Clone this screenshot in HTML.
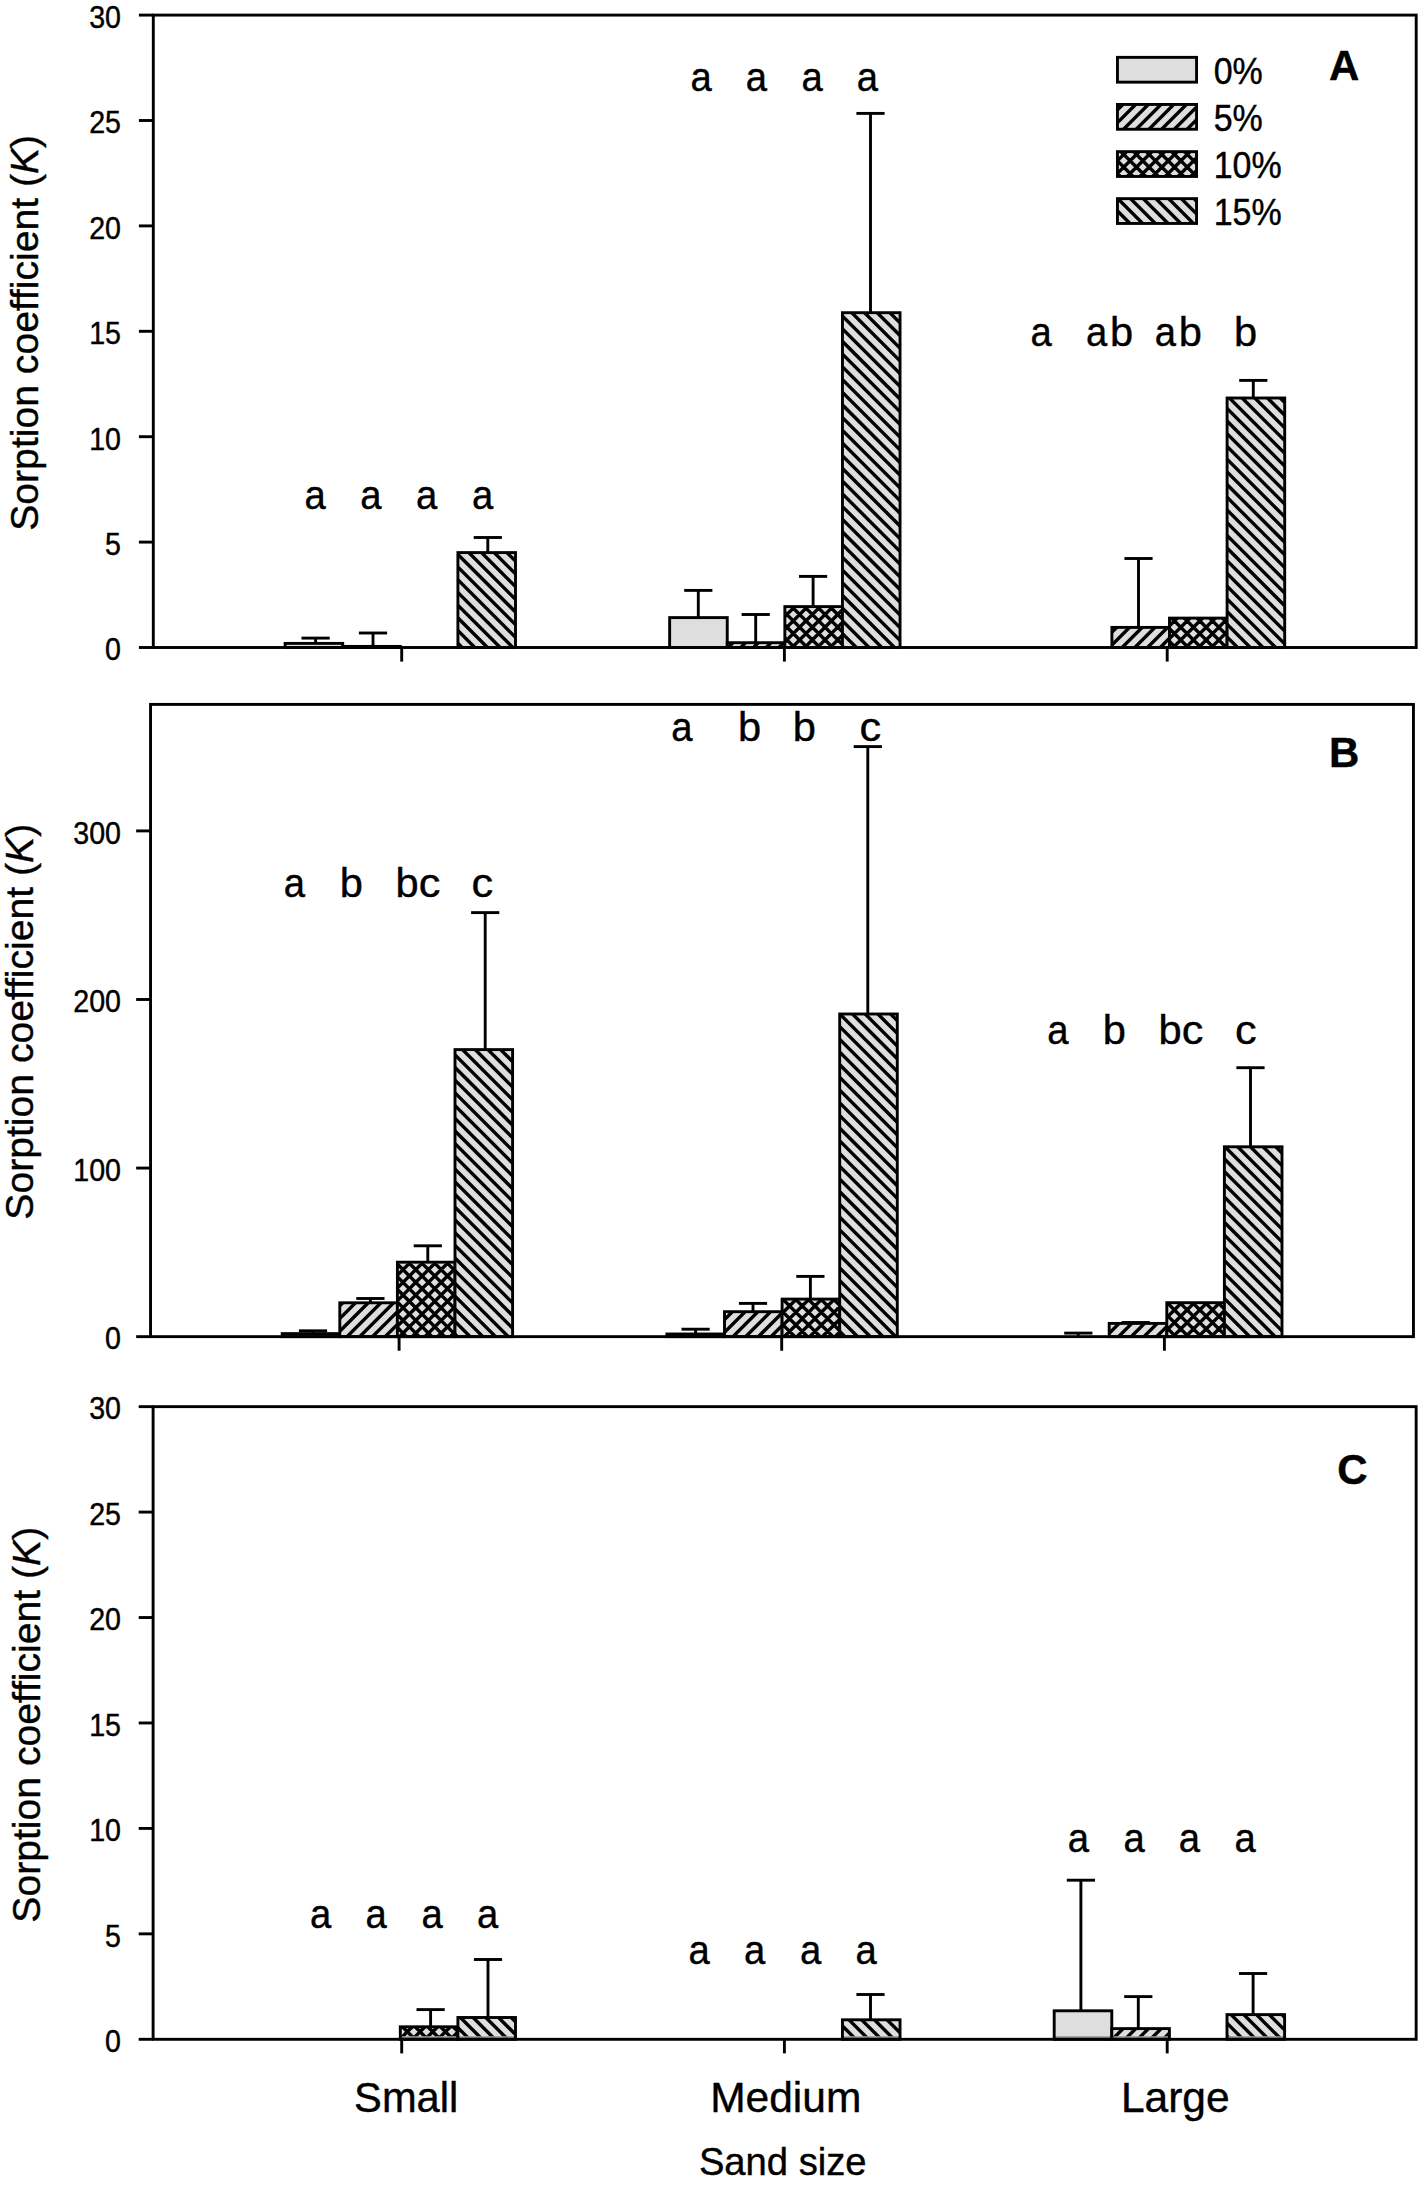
<!DOCTYPE html>
<html lang="en"><head><meta charset="utf-8"><title>Sorption coefficient (K) by sand size</title>
<style>
html,body{margin:0;padding:0;background:#fff}
body{width:1419px;height:2187px;overflow:hidden}
svg{display:block}
svg text{font-family:"Liberation Sans", Arial, Helvetica, sans-serif;font-variant-ligatures:none;font-kerning:none;fill:#000;stroke:#000;stroke-width:0.4px;white-space:pre}
</style></head><body>
<svg width="1419" height="2187" viewBox="0 0 1419 2187" stroke="#000" stroke-linecap="butt">
<rect x="0" y="0" width="1419" height="2187" fill="#fff" stroke="none"/>
<defs>
<clipPath id="c1"><rect x="342.7" y="646.4" width="57.6" height="1.1"/></clipPath>
<clipPath id="c2"><rect x="457.9" y="552.6" width="57.6" height="94.9"/></clipPath>
<clipPath id="c3"><rect x="727.25" y="642.7" width="57.6" height="4.8"/></clipPath>
<clipPath id="c4"><rect x="784.85" y="606.6" width="57.6" height="40.9"/></clipPath>
<clipPath id="c5"><rect x="842.45" y="312.7" width="57.6" height="334.8"/></clipPath>
<clipPath id="c6"><rect x="1111.9" y="627.4" width="57.6" height="20.1"/></clipPath>
<clipPath id="c7"><rect x="1169.5" y="618.1" width="57.6" height="29.4"/></clipPath>
<clipPath id="c8"><rect x="1227.1" y="398" width="57.6" height="249.5"/></clipPath>
<clipPath id="c9"><rect x="1117.45" y="104.45" width="79.1" height="24.8"/></clipPath>
<clipPath id="c10"><rect x="1117.45" y="151.65" width="79.1" height="24.8"/></clipPath>
<clipPath id="c11"><rect x="1117.45" y="198.65" width="79.1" height="24.8"/></clipPath>
<clipPath id="c12"><rect x="339.8" y="1302.8" width="57.6" height="33.85"/></clipPath>
<clipPath id="c13"><rect x="397.4" y="1262.2" width="57.6" height="74.45"/></clipPath>
<clipPath id="c14"><rect x="455" y="1049.6" width="57.6" height="287.05"/></clipPath>
<clipPath id="c15"><rect x="724.5" y="1311.7" width="57.6" height="24.95"/></clipPath>
<clipPath id="c16"><rect x="782.1" y="1299.1" width="57.6" height="37.55"/></clipPath>
<clipPath id="c17"><rect x="839.7" y="1014" width="57.6" height="322.65"/></clipPath>
<clipPath id="c18"><rect x="1109.2" y="1323.4" width="57.6" height="13.25"/></clipPath>
<clipPath id="c19"><rect x="1166.8" y="1302.7" width="57.6" height="33.95"/></clipPath>
<clipPath id="c20"><rect x="1224.4" y="1146.8" width="57.6" height="189.85"/></clipPath>
<clipPath id="c21"><rect x="400.3" y="2026.8" width="57.6" height="12.5"/></clipPath>
<clipPath id="c22"><rect x="457.9" y="2017.5" width="57.6" height="21.8"/></clipPath>
<clipPath id="c23"><rect x="842.45" y="2019.8" width="57.6" height="19.5"/></clipPath>
<clipPath id="c24"><rect x="1111.8" y="2028.6" width="57.6" height="10.7"/></clipPath>
<clipPath id="c25"><rect x="1227" y="2014.6" width="57.6" height="24.7"/></clipPath>
</defs>
<g>
<line x1="315.6" y1="638.1" x2="315.6" y2="643.4" stroke-width="2.9"/>
<line x1="301.5" y1="638.1" x2="329.7" y2="638.1" stroke-width="2.9"/>
<line x1="373" y1="633" x2="373" y2="646.4" stroke-width="2.9"/>
<line x1="358.9" y1="633" x2="387.1" y2="633" stroke-width="2.9"/>
<line x1="487.8" y1="537.5" x2="487.8" y2="552.6" stroke-width="2.9"/>
<line x1="473.7" y1="537.5" x2="501.9" y2="537.5" stroke-width="2.9"/>
<rect x="285.1" y="643.4" width="57.6" height="4.1" fill="#dedede" stroke="none"/>
<rect x="285.1" y="643.4" width="57.6" height="4.1" fill="none" stroke-width="2.9"/>
<rect x="342.7" y="646.4" width="57.6" height="1.1" fill="#dedede" stroke="none"/>
<path clip-path="url(#c1)" d="M337.25 644.25L340.55 640.95M341.25 652.95L353.25 640.95M353.95 652.95L365.95 640.95M366.65 652.95L378.65 640.95M379.35 652.95L391.35 640.95M392.05 652.95L404.05 640.95M404.75 652.95L405.75 651.95" fill="none" stroke-width="3.4"/>
<rect x="342.7" y="646.4" width="57.6" height="1.1" fill="none" stroke-width="2.9"/>
<rect x="457.9" y="552.6" width="57.6" height="94.9" fill="#dedede" stroke="none"/>
<path clip-path="url(#c2)" d="M514.15 547.15L520.95 553.95M501.45 547.15L520.95 566.65M488.75 547.15L520.95 579.35M476.05 547.15L520.95 592.05M463.35 547.15L520.95 604.75M452.45 548.95L520.95 617.45M452.45 561.65L520.95 630.15M452.45 574.35L520.95 642.85M452.45 587.05L518.35 652.95M452.45 599.75L505.65 652.95M452.45 612.45L492.95 652.95M452.45 625.15L480.25 652.95M452.45 637.85L467.55 652.95M452.45 650.55L454.85 652.95" fill="none" stroke-width="3.4"/>
<rect x="457.9" y="552.6" width="57.6" height="94.9" fill="none" stroke-width="2.9"/>
<line x1="698.3" y1="590.4" x2="698.3" y2="617.6" stroke-width="2.9"/>
<line x1="684.2" y1="590.4" x2="712.4" y2="590.4" stroke-width="2.9"/>
<line x1="755.7" y1="614.5" x2="755.7" y2="642.7" stroke-width="2.9"/>
<line x1="741.6" y1="614.5" x2="769.8" y2="614.5" stroke-width="2.9"/>
<line x1="813.1" y1="576.4" x2="813.1" y2="606.6" stroke-width="2.9"/>
<line x1="799" y1="576.4" x2="827.2" y2="576.4" stroke-width="2.9"/>
<line x1="870.5" y1="113.4" x2="870.5" y2="312.7" stroke-width="2.9"/>
<line x1="856.4" y1="113.4" x2="884.6" y2="113.4" stroke-width="2.9"/>
<rect x="669.65" y="617.6" width="57.6" height="29.9" fill="#dedede" stroke="none"/>
<rect x="669.65" y="617.6" width="57.6" height="29.9" fill="none" stroke-width="2.9"/>
<rect x="727.25" y="642.7" width="57.6" height="4.8" fill="#dedede" stroke="none"/>
<path clip-path="url(#c3)" d="M721.8 641.1L725.65 637.25M722.65 652.95L738.35 637.25M735.35 652.95L751.05 637.25M748.05 652.95L763.75 637.25M760.75 652.95L776.45 637.25M773.45 652.95L789.15 637.25M786.15 652.95L790.3 648.8" fill="none" stroke-width="3.4"/>
<rect x="727.25" y="642.7" width="57.6" height="4.8" fill="none" stroke-width="2.9"/>
<rect x="784.85" y="606.6" width="57.6" height="40.9" fill="#dedede" stroke="none"/>
<path clip-path="url(#c4)" d="M837.1 601.15L847.9 611.95M824.4 601.15L847.9 624.65M811.7 601.15L847.9 637.35M799 601.15L847.9 650.05M786.3 601.15L838.1 652.95M779.4 606.95L825.4 652.95M779.4 619.65L812.7 652.95M779.4 632.35L800 652.95M779.4 645.05L787.3 652.95M779.4 609.35L787.6 601.15M779.4 622.05L800.3 601.15M779.4 634.75L813 601.15M779.4 647.45L825.7 601.15M786.6 652.95L838.4 601.15M799.3 652.95L847.9 604.35M812 652.95L847.9 617.05M824.7 652.95L847.9 629.75M837.4 652.95L847.9 642.45" fill="none" stroke-width="3.4"/>
<rect x="784.85" y="606.6" width="57.6" height="40.9" fill="none" stroke-width="2.9"/>
<rect x="842.45" y="312.7" width="57.6" height="334.8" fill="#dedede" stroke="none"/>
<path clip-path="url(#c5)" d="M897.15 307.25L905.5 315.6M884.45 307.25L905.5 328.3M871.75 307.25L905.5 341M859.05 307.25L905.5 353.7M846.35 307.25L905.5 366.4M837 310.6L905.5 379.1M837 323.3L905.5 391.8M837 336L905.5 404.5M837 348.7L905.5 417.2M837 361.4L905.5 429.9M837 374.1L905.5 442.6M837 386.8L905.5 455.3M837 399.5L905.5 468M837 412.2L905.5 480.7M837 424.9L905.5 493.4M837 437.6L905.5 506.1M837 450.3L905.5 518.8M837 463L905.5 531.5M837 475.7L905.5 544.2M837 488.4L905.5 556.9M837 501.1L905.5 569.6M837 513.8L905.5 582.3M837 526.5L905.5 595M837 539.2L905.5 607.7M837 551.9L905.5 620.4M837 564.6L905.5 633.1M837 577.3L905.5 645.8M837 590L899.95 652.95M837 602.7L887.25 652.95M837 615.4L874.55 652.95M837 628.1L861.85 652.95M837 640.8L849.15 652.95" fill="none" stroke-width="3.4"/>
<rect x="842.45" y="312.7" width="57.6" height="334.8" fill="none" stroke-width="2.9"/>
<line x1="1138.5" y1="558.5" x2="1138.5" y2="627.4" stroke-width="2.9"/>
<line x1="1124.4" y1="558.5" x2="1152.6" y2="558.5" stroke-width="2.9"/>
<line x1="1253.3" y1="380.4" x2="1253.3" y2="398" stroke-width="2.9"/>
<line x1="1239.2" y1="380.4" x2="1267.4" y2="380.4" stroke-width="2.9"/>
<rect x="1111.9" y="627.4" width="57.6" height="20.1" fill="#dedede" stroke="none"/>
<path clip-path="url(#c6)" d="M1106.45 625.05L1109.55 621.95M1106.45 637.75L1122.25 621.95M1106.45 650.45L1134.95 621.95M1116.65 652.95L1147.65 621.95M1129.35 652.95L1160.35 621.95M1142.05 652.95L1173.05 621.95M1154.75 652.95L1174.95 632.75M1167.45 652.95L1174.95 645.45" fill="none" stroke-width="3.4"/>
<rect x="1111.9" y="627.4" width="57.6" height="20.1" fill="none" stroke-width="2.9"/>
<rect x="1169.5" y="618.1" width="57.6" height="29.4" fill="#dedede" stroke="none"/>
<path clip-path="url(#c7)" d="M1229.62 612.65L1232.55 615.58M1216.92 612.65L1232.55 628.28M1204.22 612.65L1232.55 640.98M1191.52 612.65L1231.82 652.95M1178.82 612.65L1219.12 652.95M1166.12 612.65L1206.42 652.95M1164.05 623.28L1193.72 652.95M1164.05 635.98L1181.02 652.95M1164.05 648.68L1168.32 652.95M1164.05 618.58L1169.98 612.65M1164.05 631.28L1182.68 612.65M1164.05 643.98L1195.38 612.65M1167.78 652.95L1208.08 612.65M1180.48 652.95L1220.78 612.65M1193.18 652.95L1232.55 613.58M1205.88 652.95L1232.55 626.28M1218.58 652.95L1232.55 638.98M1231.28 652.95L1232.55 651.68" fill="none" stroke-width="3.4"/>
<rect x="1169.5" y="618.1" width="57.6" height="29.4" fill="none" stroke-width="2.9"/>
<rect x="1227.1" y="398" width="57.6" height="249.5" fill="#dedede" stroke="none"/>
<path clip-path="url(#c8)" d="M1287.45 392.55L1290.15 395.25M1274.75 392.55L1290.15 407.95M1262.05 392.55L1290.15 420.65M1249.35 392.55L1290.15 433.35M1236.65 392.55L1290.15 446.05M1223.95 392.55L1290.15 458.75M1221.65 402.95L1290.15 471.45M1221.65 415.65L1290.15 484.15M1221.65 428.35L1290.15 496.85M1221.65 441.05L1290.15 509.55M1221.65 453.75L1290.15 522.25M1221.65 466.45L1290.15 534.95M1221.65 479.15L1290.15 547.65M1221.65 491.85L1290.15 560.35M1221.65 504.55L1290.15 573.05M1221.65 517.25L1290.15 585.75M1221.65 529.95L1290.15 598.45M1221.65 542.65L1290.15 611.15M1221.65 555.35L1290.15 623.85M1221.65 568.05L1290.15 636.55M1221.65 580.75L1290.15 649.25M1221.65 593.45L1281.15 652.95M1221.65 606.15L1268.45 652.95M1221.65 618.85L1255.75 652.95M1221.65 631.55L1243.05 652.95M1221.65 644.25L1230.35 652.95" fill="none" stroke-width="3.4"/>
<rect x="1227.1" y="398" width="57.6" height="249.5" fill="none" stroke-width="2.9"/>
<rect x="153.3" y="15.1" width="1262.9" height="632.4" fill="none" stroke-width="2.9"/>
<line x1="138.9" y1="647.5" x2="153.3" y2="647.5" stroke-width="2.9"/>
<text transform="translate(121.0 660.3) scale(1 1.065)" text-anchor="end" font-size="28.6">0</text>
<line x1="138.9" y1="542.1" x2="153.3" y2="542.1" stroke-width="2.9"/>
<text transform="translate(121.0 554.9) scale(1 1.065)" text-anchor="end" font-size="28.6">5</text>
<line x1="138.9" y1="436.7" x2="153.3" y2="436.7" stroke-width="2.9"/>
<text transform="translate(121.0 449.5) scale(1 1.065)" text-anchor="end" font-size="28.6">10</text>
<line x1="138.9" y1="331.3" x2="153.3" y2="331.3" stroke-width="2.9"/>
<text transform="translate(121.0 344.1) scale(1 1.065)" text-anchor="end" font-size="28.6">15</text>
<line x1="138.9" y1="225.9" x2="153.3" y2="225.9" stroke-width="2.9"/>
<text transform="translate(121.0 238.7) scale(1 1.065)" text-anchor="end" font-size="28.6">20</text>
<line x1="138.9" y1="120.5" x2="153.3" y2="120.5" stroke-width="2.9"/>
<text transform="translate(121.0 133.3) scale(1 1.065)" text-anchor="end" font-size="28.6">25</text>
<line x1="138.9" y1="15.1" x2="153.3" y2="15.1" stroke-width="2.9"/>
<text transform="translate(121.0 27.9) scale(1 1.065)" text-anchor="end" font-size="28.6">30</text>
<line x1="401.7" y1="647.5" x2="401.7" y2="661.6" stroke-width="2.9"/>
<line x1="784.4" y1="647.5" x2="784.4" y2="661.6" stroke-width="2.9"/>
<line x1="1167.2" y1="647.5" x2="1167.2" y2="661.6" stroke-width="2.9"/>
<text transform="translate(37.6 530.8) rotate(-90)" font-size="39.15" stroke-width="0.15">Sorption coefficient (<tspan font-style="italic">K</tspan>)</text>
<text x="1329" y="80.4" font-size="42" font-weight="bold">A</text>
<text y="509.3" font-size="40"><tspan x="304.49" textLength="21.245" lengthAdjust="spacingAndGlyphs">a</tspan> <tspan x="360.29" textLength="21.245" lengthAdjust="spacingAndGlyphs">a</tspan> <tspan x="416.09" textLength="21.245" lengthAdjust="spacingAndGlyphs">a</tspan> <tspan x="471.89" textLength="21.245" lengthAdjust="spacingAndGlyphs">a</tspan></text>
<text y="90.6" font-size="40"><tspan x="690.39" textLength="21.245" lengthAdjust="spacingAndGlyphs">a</tspan> <tspan x="745.69" textLength="21.245" lengthAdjust="spacingAndGlyphs">a</tspan> <tspan x="801.49" textLength="21.245" lengthAdjust="spacingAndGlyphs">a</tspan> <tspan x="856.79" textLength="21.245" lengthAdjust="spacingAndGlyphs">a</tspan></text>
<text y="345.5" font-size="40"><tspan x="1030.39" textLength="21.245" lengthAdjust="spacingAndGlyphs">a</tspan> <tspan x="1086.09" textLength="21.245" lengthAdjust="spacingAndGlyphs">a</tspan><tspan x="1110.04" textLength="23.136" lengthAdjust="spacingAndGlyphs">b</tspan> <tspan x="1154.79" textLength="21.245" lengthAdjust="spacingAndGlyphs">a</tspan><tspan x="1178.74" textLength="23.136" lengthAdjust="spacingAndGlyphs">b</tspan> <tspan x="1234.04" textLength="23.136" lengthAdjust="spacingAndGlyphs">b</tspan></text>
<rect x="1117.45" y="57.35" width="79.1" height="24.8" fill="#dedede" stroke="none"/>
<rect x="1117.45" y="57.35" width="79.1" height="24.8" fill="none" stroke-width="2.9"/>
<text transform="translate(1213.7 83.5) scale(1 1.075)" font-size="34">0%</text>
<rect x="1117.45" y="104.45" width="79.1" height="24.8" fill="#dedede" stroke="none"/>
<path clip-path="url(#c9)" d="M1112 102.7L1115.7 99M1112 115.4L1128.4 99M1112 128.1L1141.1 99M1118.1 134.7L1153.8 99M1130.8 134.7L1166.5 99M1143.5 134.7L1179.2 99M1156.2 134.7L1191.9 99M1168.9 134.7L1202 101.6M1181.6 134.7L1202 114.3M1194.3 134.7L1202 127" fill="none" stroke-width="3.4"/>
<rect x="1117.45" y="104.45" width="79.1" height="24.8" fill="none" stroke-width="2.9"/>
<text transform="translate(1213.7 130.6) scale(1 1.075)" font-size="34">5%</text>
<rect x="1117.45" y="151.65" width="79.1" height="24.8" fill="#dedede" stroke="none"/>
<path clip-path="url(#c10)" d="M1191.7 146.2L1202 156.5M1179 146.2L1202 169.2M1166.3 146.2L1202 181.9M1153.6 146.2L1189.3 181.9M1140.9 146.2L1176.6 181.9M1128.2 146.2L1163.9 181.9M1115.5 146.2L1151.2 181.9M1112 155.4L1138.5 181.9M1112 168.1L1125.8 181.9M1112 180.8L1113.1 181.9M1112 153.5L1119.3 146.2M1112 166.2L1132 146.2M1112 178.9L1144.7 146.2M1121.7 181.9L1157.4 146.2M1134.4 181.9L1170.1 146.2M1147.1 181.9L1182.8 146.2M1159.8 181.9L1195.5 146.2M1172.5 181.9L1202 152.4M1185.2 181.9L1202 165.1M1197.9 181.9L1202 177.8" fill="none" stroke-width="3.4"/>
<rect x="1117.45" y="151.65" width="79.1" height="24.8" fill="none" stroke-width="2.9"/>
<text transform="translate(1213.7 177.7) scale(1 1.075)" font-size="34">10%</text>
<rect x="1117.45" y="198.65" width="79.1" height="24.8" fill="#dedede" stroke="none"/>
<path clip-path="url(#c11)" d="M1201.3 193.2L1202 193.9M1188.6 193.2L1202 206.6M1175.9 193.2L1202 219.3M1163.2 193.2L1198.9 228.9M1150.5 193.2L1186.2 228.9M1137.8 193.2L1173.5 228.9M1125.1 193.2L1160.8 228.9M1112.4 193.2L1148.1 228.9M1112 205.5L1135.4 228.9M1112 218.2L1122.7 228.9" fill="none" stroke-width="3.4"/>
<rect x="1117.45" y="198.65" width="79.1" height="24.8" fill="none" stroke-width="2.9"/>
<text transform="translate(1213.7 224.8) scale(1 1.075)" font-size="34">15%</text>
<line x1="313" y1="1330.8" x2="313" y2="1333.6" stroke-width="2.9"/>
<line x1="298.9" y1="1330.8" x2="327.1" y2="1330.8" stroke-width="2.9"/>
<line x1="370.4" y1="1298.5" x2="370.4" y2="1302.8" stroke-width="2.9"/>
<line x1="356.3" y1="1298.5" x2="384.5" y2="1298.5" stroke-width="2.9"/>
<line x1="427.8" y1="1245.8" x2="427.8" y2="1262.2" stroke-width="2.9"/>
<line x1="413.7" y1="1245.8" x2="441.9" y2="1245.8" stroke-width="2.9"/>
<line x1="485.2" y1="912.6" x2="485.2" y2="1049.6" stroke-width="2.9"/>
<line x1="471.1" y1="912.6" x2="499.3" y2="912.6" stroke-width="2.9"/>
<rect x="282.2" y="1333.6" width="57.6" height="3.05" fill="#dedede" stroke="none"/>
<rect x="282.2" y="1333.6" width="57.6" height="3.05" fill="none" stroke-width="2.9"/>
<rect x="339.8" y="1302.8" width="57.6" height="33.85" fill="#dedede" stroke="none"/>
<path clip-path="url(#c12)" d="M334.35 1298.55L335.55 1297.35M334.35 1311.25L348.25 1297.35M334.35 1323.95L360.95 1297.35M334.35 1336.65L373.65 1297.35M341.6 1342.1L386.35 1297.35M354.3 1342.1L399.05 1297.35M367 1342.1L402.85 1306.25M379.7 1342.1L402.85 1318.95M392.4 1342.1L402.85 1331.65" fill="none" stroke-width="3.4"/>
<rect x="339.8" y="1302.8" width="57.6" height="33.85" fill="none" stroke-width="2.9"/>
<rect x="397.4" y="1262.2" width="57.6" height="74.45" fill="#dedede" stroke="none"/>
<path clip-path="url(#c13)" d="M453.65 1256.75L460.45 1263.55M440.95 1256.75L460.45 1276.25M428.25 1256.75L460.45 1288.95M415.55 1256.75L460.45 1301.65M402.85 1256.75L460.45 1314.35M391.95 1258.55L460.45 1327.05M391.95 1271.25L460.45 1339.75M391.95 1283.95L450.1 1342.1M391.95 1296.65L437.4 1342.1M391.95 1309.35L424.7 1342.1M391.95 1322.05L412 1342.1M391.95 1334.75L399.3 1342.1M391.95 1268.05L403.25 1256.75M391.95 1280.75L415.95 1256.75M391.95 1293.45L428.65 1256.75M391.95 1306.15L441.35 1256.75M391.95 1318.85L454.05 1256.75M391.95 1331.55L460.45 1263.05M394.1 1342.1L460.45 1275.75M406.8 1342.1L460.45 1288.45M419.5 1342.1L460.45 1301.15M432.2 1342.1L460.45 1313.85M444.9 1342.1L460.45 1326.55M457.6 1342.1L460.45 1339.25" fill="none" stroke-width="3.4"/>
<rect x="397.4" y="1262.2" width="57.6" height="74.45" fill="none" stroke-width="2.9"/>
<rect x="455" y="1049.6" width="57.6" height="287.05" fill="#dedede" stroke="none"/>
<path clip-path="url(#c14)" d="M507.85 1044.15L518.05 1054.35M495.15 1044.15L518.05 1067.05M482.45 1044.15L518.05 1079.75M469.75 1044.15L518.05 1092.45M457.05 1044.15L518.05 1105.15M449.55 1049.35L518.05 1117.85M449.55 1062.05L518.05 1130.55M449.55 1074.75L518.05 1143.25M449.55 1087.45L518.05 1155.95M449.55 1100.15L518.05 1168.65M449.55 1112.85L518.05 1181.35M449.55 1125.55L518.05 1194.05M449.55 1138.25L518.05 1206.75M449.55 1150.95L518.05 1219.45M449.55 1163.65L518.05 1232.15M449.55 1176.35L518.05 1244.85M449.55 1189.05L518.05 1257.55M449.55 1201.75L518.05 1270.25M449.55 1214.45L518.05 1282.95M449.55 1227.15L518.05 1295.65M449.55 1239.85L518.05 1308.35M449.55 1252.55L518.05 1321.05M449.55 1265.25L518.05 1333.75M449.55 1277.95L513.7 1342.1M449.55 1290.65L501 1342.1M449.55 1303.35L488.3 1342.1M449.55 1316.05L475.6 1342.1M449.55 1328.75L462.9 1342.1M449.55 1341.45L450.2 1342.1" fill="none" stroke-width="3.4"/>
<rect x="455" y="1049.6" width="57.6" height="287.05" fill="none" stroke-width="2.9"/>
<line x1="695.6" y1="1329.2" x2="695.6" y2="1334" stroke-width="2.9"/>
<line x1="681.5" y1="1329.2" x2="709.7" y2="1329.2" stroke-width="2.9"/>
<line x1="753" y1="1303.4" x2="753" y2="1311.7" stroke-width="2.9"/>
<line x1="738.9" y1="1303.4" x2="767.1" y2="1303.4" stroke-width="2.9"/>
<line x1="810.4" y1="1276.4" x2="810.4" y2="1299.1" stroke-width="2.9"/>
<line x1="796.3" y1="1276.4" x2="824.5" y2="1276.4" stroke-width="2.9"/>
<line x1="867.8" y1="746.6" x2="867.8" y2="1014" stroke-width="2.9"/>
<line x1="853.7" y1="746.6" x2="881.9" y2="746.6" stroke-width="2.9"/>
<rect x="666.9" y="1334" width="57.6" height="2.65" fill="#dedede" stroke="none"/>
<rect x="666.9" y="1334" width="57.6" height="2.65" fill="none" stroke-width="2.9"/>
<rect x="724.5" y="1311.7" width="57.6" height="24.95" fill="#dedede" stroke="none"/>
<path clip-path="url(#c15)" d="M719.05 1312.45L725.25 1306.25M719.05 1325.15L737.95 1306.25M719.05 1337.85L750.65 1306.25M727.5 1342.1L763.35 1306.25M740.2 1342.1L776.05 1306.25M752.9 1342.1L787.55 1307.45M765.6 1342.1L787.55 1320.15M778.3 1342.1L787.55 1332.85" fill="none" stroke-width="3.4"/>
<rect x="724.5" y="1311.7" width="57.6" height="24.95" fill="none" stroke-width="2.9"/>
<rect x="782.1" y="1299.1" width="57.6" height="37.55" fill="#dedede" stroke="none"/>
<path clip-path="url(#c16)" d="M840.75 1293.65L845.15 1298.05M828.05 1293.65L845.15 1310.75M815.35 1293.65L845.15 1323.45M802.65 1293.65L845.15 1336.15M789.95 1293.65L838.4 1342.1M777.25 1293.65L825.7 1342.1M776.65 1305.75L813 1342.1M776.65 1318.45L800.3 1342.1M776.65 1331.15L787.6 1342.1M776.65 1306.15L789.15 1293.65M776.65 1318.85L801.85 1293.65M776.65 1331.55L814.55 1293.65M778.8 1342.1L827.25 1293.65M791.5 1342.1L839.95 1293.65M804.2 1342.1L845.15 1301.15M816.9 1342.1L845.15 1313.85M829.6 1342.1L845.15 1326.55M842.3 1342.1L845.15 1339.25" fill="none" stroke-width="3.4"/>
<rect x="782.1" y="1299.1" width="57.6" height="37.55" fill="none" stroke-width="2.9"/>
<rect x="839.7" y="1014" width="57.6" height="322.65" fill="#dedede" stroke="none"/>
<path clip-path="url(#c17)" d="M897.85 1008.55L902.75 1013.45M885.15 1008.55L902.75 1026.15M872.45 1008.55L902.75 1038.85M859.75 1008.55L902.75 1051.55M847.05 1008.55L902.75 1064.25M834.35 1008.55L902.75 1076.95M834.25 1021.15L902.75 1089.65M834.25 1033.85L902.75 1102.35M834.25 1046.55L902.75 1115.05M834.25 1059.25L902.75 1127.75M834.25 1071.95L902.75 1140.45M834.25 1084.65L902.75 1153.15M834.25 1097.35L902.75 1165.85M834.25 1110.05L902.75 1178.55M834.25 1122.75L902.75 1191.25M834.25 1135.45L902.75 1203.95M834.25 1148.15L902.75 1216.65M834.25 1160.85L902.75 1229.35M834.25 1173.55L902.75 1242.05M834.25 1186.25L902.75 1254.75M834.25 1198.95L902.75 1267.45M834.25 1211.65L902.75 1280.15M834.25 1224.35L902.75 1292.85M834.25 1237.05L902.75 1305.55M834.25 1249.75L902.75 1318.25M834.25 1262.45L902.75 1330.95M834.25 1275.15L901.2 1342.1M834.25 1287.85L888.5 1342.1M834.25 1300.55L875.8 1342.1M834.25 1313.25L863.1 1342.1M834.25 1325.95L850.4 1342.1M834.25 1338.65L837.7 1342.1" fill="none" stroke-width="3.4"/>
<rect x="839.7" y="1014" width="57.6" height="322.65" fill="none" stroke-width="2.9"/>
<line x1="1078.3" y1="1333.1" x2="1078.3" y2="1336.65" stroke-width="2.9"/>
<line x1="1064.2" y1="1333.1" x2="1092.4" y2="1333.1" stroke-width="2.9"/>
<line x1="1135.7" y1="1322.5" x2="1135.7" y2="1323.4" stroke-width="2.9"/>
<line x1="1121.6" y1="1322.5" x2="1149.8" y2="1322.5" stroke-width="2.9"/>
<line x1="1250.5" y1="1067.7" x2="1250.5" y2="1146.8" stroke-width="2.9"/>
<line x1="1236.4" y1="1067.7" x2="1264.6" y2="1067.7" stroke-width="2.9"/>
<rect x="1109.2" y="1323.4" width="57.6" height="13.25" fill="#dedede" stroke="none"/>
<path clip-path="url(#c18)" d="M1103.75 1326.05L1111.85 1317.95M1103.75 1338.75L1124.55 1317.95M1113.1 1342.1L1137.25 1317.95M1125.8 1342.1L1149.95 1317.95M1138.5 1342.1L1162.65 1317.95M1151.2 1342.1L1172.25 1321.05M1163.9 1342.1L1172.25 1333.75" fill="none" stroke-width="3.4"/>
<rect x="1109.2" y="1323.4" width="57.6" height="13.25" fill="none" stroke-width="2.9"/>
<rect x="1166.8" y="1302.7" width="57.6" height="33.95" fill="#dedede" stroke="none"/>
<path clip-path="url(#c19)" d="M1225.25 1297.25L1229.85 1301.85M1212.55 1297.25L1229.85 1314.55M1199.85 1297.25L1229.85 1327.25M1187.15 1297.25L1229.85 1339.95M1174.45 1297.25L1219.3 1342.1M1161.75 1297.25L1206.6 1342.1M1161.35 1309.55L1193.9 1342.1M1161.35 1322.25L1181.2 1342.1M1161.35 1334.95L1168.5 1342.1M1161.35 1297.55L1161.65 1297.25M1161.35 1310.25L1174.35 1297.25M1161.35 1322.95L1187.05 1297.25M1161.35 1335.65L1199.75 1297.25M1167.6 1342.1L1212.45 1297.25M1180.3 1342.1L1225.15 1297.25M1193 1342.1L1229.85 1305.25M1205.7 1342.1L1229.85 1317.95M1218.4 1342.1L1229.85 1330.65" fill="none" stroke-width="3.4"/>
<rect x="1166.8" y="1302.7" width="57.6" height="33.95" fill="none" stroke-width="2.9"/>
<rect x="1224.4" y="1146.8" width="57.6" height="189.85" fill="#dedede" stroke="none"/>
<path clip-path="url(#c20)" d="M1283.05 1141.35L1287.45 1145.75M1270.35 1141.35L1287.45 1158.45M1257.65 1141.35L1287.45 1171.15M1244.95 1141.35L1287.45 1183.85M1232.25 1141.35L1287.45 1196.55M1219.55 1141.35L1287.45 1209.25M1218.95 1153.45L1287.45 1221.95M1218.95 1166.15L1287.45 1234.65M1218.95 1178.85L1287.45 1247.35M1218.95 1191.55L1287.45 1260.05M1218.95 1204.25L1287.45 1272.75M1218.95 1216.95L1287.45 1285.45M1218.95 1229.65L1287.45 1298.15M1218.95 1242.35L1287.45 1310.85M1218.95 1255.05L1287.45 1323.55M1218.95 1267.75L1287.45 1336.25M1218.95 1280.45L1280.6 1342.1M1218.95 1293.15L1267.9 1342.1M1218.95 1305.85L1255.2 1342.1M1218.95 1318.55L1242.5 1342.1M1218.95 1331.25L1229.8 1342.1" fill="none" stroke-width="3.4"/>
<rect x="1224.4" y="1146.8" width="57.6" height="189.85" fill="none" stroke-width="2.9"/>
<rect x="150.55" y="704.4" width="1262.9" height="632.25" fill="none" stroke-width="2.9"/>
<line x1="136.15" y1="1336.65" x2="150.55" y2="1336.65" stroke-width="2.9"/>
<text transform="translate(121.0 1349.45) scale(1 1.065)" text-anchor="end" font-size="28.6">0</text>
<line x1="136.15" y1="1168.07" x2="150.55" y2="1168.07" stroke-width="2.9"/>
<text transform="translate(121.0 1180.87) scale(1 1.065)" text-anchor="end" font-size="28.6">100</text>
<line x1="136.15" y1="999.49" x2="150.55" y2="999.49" stroke-width="2.9"/>
<text transform="translate(121.0 1012.29) scale(1 1.065)" text-anchor="end" font-size="28.6">200</text>
<line x1="136.15" y1="830.91" x2="150.55" y2="830.91" stroke-width="2.9"/>
<text transform="translate(121.0 843.71) scale(1 1.065)" text-anchor="end" font-size="28.6">300</text>
<line x1="399.1" y1="1336.65" x2="399.1" y2="1350.75" stroke-width="2.9"/>
<line x1="781.7" y1="1336.65" x2="781.7" y2="1350.75" stroke-width="2.9"/>
<line x1="1164.4" y1="1336.65" x2="1164.4" y2="1350.75" stroke-width="2.9"/>
<text transform="translate(32.6 1219.7) rotate(-90)" font-size="39.15" stroke-width="0.15">Sorption coefficient (<tspan font-style="italic">K</tspan>)</text>
<text x="1329" y="766.5" font-size="42" font-weight="bold">B</text>
<text y="896.5" font-size="40"><tspan x="283.69" textLength="21.245" lengthAdjust="spacingAndGlyphs">a</tspan> <tspan x="339.84" textLength="23.136" lengthAdjust="spacingAndGlyphs">b</tspan> <tspan x="395.44" textLength="23.136" lengthAdjust="spacingAndGlyphs">b</tspan><tspan x="418.88" textLength="21.600" lengthAdjust="spacingAndGlyphs">c</tspan> <tspan x="471.58" textLength="21.600" lengthAdjust="spacingAndGlyphs">c</tspan></text>
<text y="740.6" font-size="40"><tspan x="671.19" textLength="21.245" lengthAdjust="spacingAndGlyphs">a</tspan> <tspan x="737.94" textLength="23.136" lengthAdjust="spacingAndGlyphs">b</tspan> <tspan x="792.84" textLength="23.136" lengthAdjust="spacingAndGlyphs">b</tspan> <tspan x="859.48" textLength="21.600" lengthAdjust="spacingAndGlyphs">c</tspan></text>
<text y="1043.5" font-size="40"><tspan x="1047.19" textLength="21.245" lengthAdjust="spacingAndGlyphs">a</tspan> <tspan x="1102.74" textLength="23.136" lengthAdjust="spacingAndGlyphs">b</tspan> <tspan x="1158.44" textLength="23.136" lengthAdjust="spacingAndGlyphs">b</tspan><tspan x="1181.88" textLength="21.600" lengthAdjust="spacingAndGlyphs">c</tspan> <tspan x="1234.98" textLength="21.600" lengthAdjust="spacingAndGlyphs">c</tspan></text>
<line x1="430.6" y1="2009.6" x2="430.6" y2="2026.8" stroke-width="2.9"/>
<line x1="416.5" y1="2009.6" x2="444.7" y2="2009.6" stroke-width="2.9"/>
<line x1="488" y1="1959.5" x2="488" y2="2017.5" stroke-width="2.9"/>
<line x1="473.9" y1="1959.5" x2="502.1" y2="1959.5" stroke-width="2.9"/>
<rect x="400.3" y="2026.8" width="57.6" height="12.5" fill="#dedede" stroke="none"/>
<path clip-path="url(#c21)" d="M460.45 2021.35L463.35 2024.25M447.75 2021.35L463.35 2036.95M435.05 2021.35L458.45 2044.75M422.35 2021.35L445.75 2044.75M409.65 2021.35L433.05 2044.75M396.95 2021.35L420.35 2044.75M394.85 2031.95L407.65 2044.75M394.85 2044.65L394.95 2044.75M394.85 2031.55L405.05 2021.35M394.85 2044.25L417.75 2021.35M407.05 2044.75L430.45 2021.35M419.75 2044.75L443.15 2021.35M432.45 2044.75L455.85 2021.35M445.15 2044.75L463.35 2026.55M457.85 2044.75L463.35 2039.25" fill="none" stroke-width="3.4"/>
<rect x="400.3" y="2036.2" width="57.6" height="1.7" fill="#9c9c9c" stroke="none"/>
<rect x="400.3" y="2026.8" width="57.6" height="12.5" fill="none" stroke-width="2.9"/>
<rect x="457.9" y="2017.5" width="57.6" height="21.8" fill="#dedede" stroke="none"/>
<path clip-path="url(#c22)" d="M518.45 2012.05L520.95 2014.55M505.75 2012.05L520.95 2027.25M493.05 2012.05L520.95 2039.95M480.35 2012.05L513.05 2044.75M467.65 2012.05L500.35 2044.75M454.95 2012.05L487.65 2044.75M452.45 2022.25L474.95 2044.75M452.45 2034.95L462.25 2044.75" fill="none" stroke-width="3.4"/>
<rect x="457.9" y="2036.2" width="57.6" height="1.7" fill="#9c9c9c" stroke="none"/>
<rect x="457.9" y="2017.5" width="57.6" height="21.8" fill="none" stroke-width="2.9"/>
<line x1="870.5" y1="1994.5" x2="870.5" y2="2019.8" stroke-width="2.9"/>
<line x1="856.4" y1="1994.5" x2="884.6" y2="1994.5" stroke-width="2.9"/>
<rect x="842.45" y="2019.8" width="57.6" height="19.5" fill="#dedede" stroke="none"/>
<path clip-path="url(#c23)" d="M894.35 2014.35L905.5 2025.5M881.65 2014.35L905.5 2038.2M868.95 2014.35L899.35 2044.75M856.25 2014.35L886.65 2044.75M843.55 2014.35L873.95 2044.75M837 2020.5L861.25 2044.75M837 2033.2L848.55 2044.75" fill="none" stroke-width="3.4"/>
<rect x="842.45" y="2036.2" width="57.6" height="1.7" fill="#9c9c9c" stroke="none"/>
<rect x="842.45" y="2019.8" width="57.6" height="19.5" fill="none" stroke-width="2.9"/>
<line x1="1080.9" y1="1880.2" x2="1080.9" y2="2010.8" stroke-width="2.9"/>
<line x1="1066.8" y1="1880.2" x2="1095" y2="1880.2" stroke-width="2.9"/>
<line x1="1138.3" y1="1996.6" x2="1138.3" y2="2028.6" stroke-width="2.9"/>
<line x1="1124.2" y1="1996.6" x2="1152.4" y2="1996.6" stroke-width="2.9"/>
<line x1="1253.1" y1="1973.5" x2="1253.1" y2="2014.6" stroke-width="2.9"/>
<line x1="1239" y1="1973.5" x2="1267.2" y2="1973.5" stroke-width="2.9"/>
<rect x="1054.2" y="2010.8" width="57.6" height="28.5" fill="#dedede" stroke="none"/>
<rect x="1054.2" y="2036.2" width="57.6" height="1.7" fill="#9c9c9c" stroke="none"/>
<rect x="1054.2" y="2010.8" width="57.6" height="28.5" fill="none" stroke-width="2.9"/>
<rect x="1111.8" y="2028.6" width="57.6" height="10.7" fill="#dedede" stroke="none"/>
<path clip-path="url(#c24)" d="M1106.35 2032.65L1115.85 2023.15M1106.95 2044.75L1128.55 2023.15M1119.65 2044.75L1141.25 2023.15M1132.35 2044.75L1153.95 2023.15M1145.05 2044.75L1166.65 2023.15M1157.75 2044.75L1174.85 2027.65M1170.45 2044.75L1174.85 2040.35" fill="none" stroke-width="3.4"/>
<rect x="1111.8" y="2036.2" width="57.6" height="1.7" fill="#9c9c9c" stroke="none"/>
<rect x="1111.8" y="2028.6" width="57.6" height="10.7" fill="none" stroke-width="2.9"/>
<rect x="1227" y="2014.6" width="57.6" height="24.7" fill="#dedede" stroke="none"/>
<path clip-path="url(#c25)" d="M1289.15 2009.15L1290.05 2010.05M1276.45 2009.15L1290.05 2022.75M1263.75 2009.15L1290.05 2035.45M1251.05 2009.15L1286.65 2044.75M1238.35 2009.15L1273.95 2044.75M1225.65 2009.15L1261.25 2044.75M1221.55 2017.75L1248.55 2044.75M1221.55 2030.45L1235.85 2044.75M1221.55 2043.15L1223.15 2044.75" fill="none" stroke-width="3.4"/>
<rect x="1227" y="2036.2" width="57.6" height="1.7" fill="#9c9c9c" stroke="none"/>
<rect x="1227" y="2014.6" width="57.6" height="24.7" fill="none" stroke-width="2.9"/>
<rect x="153.1" y="1406.65" width="1263.05" height="632.65" fill="none" stroke-width="2.9"/>
<line x1="138.7" y1="2039.3" x2="153.1" y2="2039.3" stroke-width="2.9"/>
<text transform="translate(121.0 2052.1) scale(1 1.065)" text-anchor="end" font-size="28.6">0</text>
<line x1="138.7" y1="1933.86" x2="153.1" y2="1933.86" stroke-width="2.9"/>
<text transform="translate(121.0 1946.66) scale(1 1.065)" text-anchor="end" font-size="28.6">5</text>
<line x1="138.7" y1="1828.42" x2="153.1" y2="1828.42" stroke-width="2.9"/>
<text transform="translate(121.0 1841.22) scale(1 1.065)" text-anchor="end" font-size="28.6">10</text>
<line x1="138.7" y1="1722.97" x2="153.1" y2="1722.97" stroke-width="2.9"/>
<text transform="translate(121.0 1735.77) scale(1 1.065)" text-anchor="end" font-size="28.6">15</text>
<line x1="138.7" y1="1617.53" x2="153.1" y2="1617.53" stroke-width="2.9"/>
<text transform="translate(121.0 1630.33) scale(1 1.065)" text-anchor="end" font-size="28.6">20</text>
<line x1="138.7" y1="1512.09" x2="153.1" y2="1512.09" stroke-width="2.9"/>
<text transform="translate(121.0 1524.89) scale(1 1.065)" text-anchor="end" font-size="28.6">25</text>
<line x1="138.7" y1="1406.65" x2="153.1" y2="1406.65" stroke-width="2.9"/>
<text transform="translate(121.0 1419.45) scale(1 1.065)" text-anchor="end" font-size="28.6">30</text>
<line x1="401.7" y1="2039.3" x2="401.7" y2="2053.4" stroke-width="2.9"/>
<line x1="784.4" y1="2039.3" x2="784.4" y2="2053.4" stroke-width="2.9"/>
<line x1="1167.2" y1="2039.3" x2="1167.2" y2="2053.4" stroke-width="2.9"/>
<text transform="translate(39.5 1922.7) rotate(-90)" font-size="39.15" stroke-width="0.15">Sorption coefficient (<tspan font-style="italic">K</tspan>)</text>
<text x="1337.3" y="1483.5" font-size="42" font-weight="bold">C</text>
<text y="1927.6" font-size="40"><tspan x="309.89" textLength="21.245" lengthAdjust="spacingAndGlyphs">a</tspan> <tspan x="365.59" textLength="21.245" lengthAdjust="spacingAndGlyphs">a</tspan> <tspan x="421.39" textLength="21.245" lengthAdjust="spacingAndGlyphs">a</tspan> <tspan x="476.99" textLength="21.245" lengthAdjust="spacingAndGlyphs">a</tspan></text>
<text y="1964.4" font-size="40"><tspan x="688.49" textLength="21.245" lengthAdjust="spacingAndGlyphs">a</tspan> <tspan x="744.09" textLength="21.245" lengthAdjust="spacingAndGlyphs">a</tspan> <tspan x="799.89" textLength="21.245" lengthAdjust="spacingAndGlyphs">a</tspan> <tspan x="855.59" textLength="21.245" lengthAdjust="spacingAndGlyphs">a</tspan></text>
<text y="1851.9" font-size="40"><tspan x="1067.69" textLength="21.245" lengthAdjust="spacingAndGlyphs">a</tspan> <tspan x="1123.59" textLength="21.245" lengthAdjust="spacingAndGlyphs">a</tspan> <tspan x="1178.79" textLength="21.245" lengthAdjust="spacingAndGlyphs">a</tspan> <tspan x="1234.49" textLength="21.245" lengthAdjust="spacingAndGlyphs">a</tspan></text>
<text x="354.1" y="2111.7" font-size="42.5" textLength="104.2" lengthAdjust="spacingAndGlyphs">Small</text>
<text x="710.2" y="2111.7" font-size="42.5">Medium</text>
<text x="1120.9" y="2111.7" font-size="42.5">Large</text>
<text x="698.9" y="2174.7" font-size="38.2">Sand size</text>
</g>
</svg>
</body></html>
